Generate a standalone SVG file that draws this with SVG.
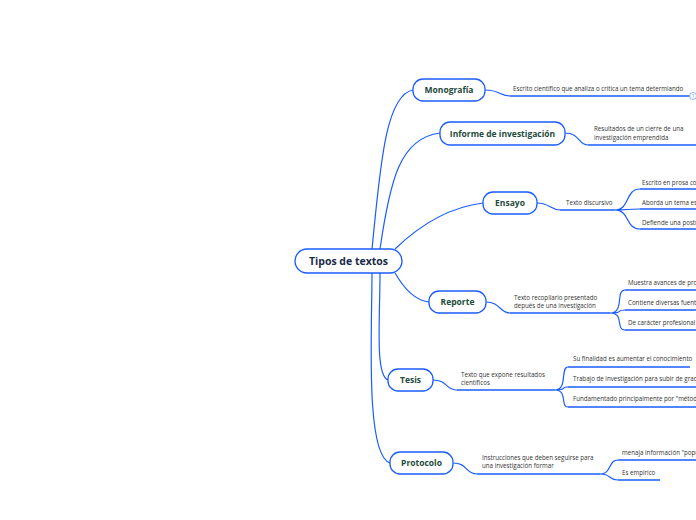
<svg xmlns="http://www.w3.org/2000/svg" width="696" height="520" viewBox="0 0 696 520">
<style>
.c{fill:none;stroke:#1a5cff;stroke-width:1.2}
.u{fill:none;stroke:#1a5cff;stroke-width:1.6}
.n{fill:#fff;stroke:#1a5cff;stroke-width:1.3}
.nt{font-family:"Open Sans",sans-serif;font-size:8.5px;font-weight:bold;fill:#1d4a3a;text-anchor:middle}
.t{font-family:"Open Sans",sans-serif;font-size:6.2px;fill:#333}
</style>
<rect width="696" height="520" fill="#fff"/>
<g id="connectors">
<path class="c" d="M372,249 C380,170 385,95 413,90"/>
<path class="c" d="M380,249 C390,180 400,138 440,133"/>
<path class="c" d="M395,249 C420,225 450,207 483,203"/>
<path class="c" d="M395,273 C405,290 415,300 429,302"/>
<path class="c" d="M380,273 C380,320 375,375 388,380"/>
<path class="c" d="M372,273 C372,330 365,455 390,463"/>
<path class="c" d="M485,90 C500,90 500,96 510,96"/><path class="u" d="M510,96 H690"/>
<circle cx="693" cy="96" r="3.5" fill="#fff" stroke="#6aa0ff" stroke-width="0.8"/>
<path class="c" d="M565,133 C580,133 578,145 588,145"/><path class="u" d="M588,145 H696"/>
<path class="c" d="M537,203 C550,203 550,210 560,210"/><path class="u" d="M560,210 H615"/>
<path class="c" d="M615,210 C630,210 625,189 640,189 M615,210 C630,210 625,209 640,209 M615,210 C630,210 625,229 640,229"/>
<path class="u" d="M640,189 H696 M640,209 H696 M640,229 H696"/>
<path class="c" d="M486,302 C500,302 500,313 510,313"/><path class="u" d="M510,313 H610"/>
<path class="c" d="M610,313 C625,313 615,290 625,290 M610,313 C625,313 615,310 625,310 M610,313 C625,313 615,330 625,330"/>
<path class="u" d="M625,290 H696 M625,310 H696 M625,330 H696"/>
<path class="c" d="M433,380 C448,380 445,390 457,390"/><path class="u" d="M457,390 H555"/>
<path class="c" d="M555,390 C568,390 560,367 568,367 M555,390 C568,390 560,387 568,387 M555,390 C568,390 560,407 568,407"/>
<path class="u" d="M568,367 H690 M568,387 H696 M568,407 H696"/>
<path class="c" d="M453,463 C468,463 465,474 477,474"/><path class="u" d="M477,474 H600"/>
<path class="c" d="M600,474 C612,474 608,460 618,460 M600,474 C612,474 608,480 618,480"/>
<path class="u" d="M618,460 H696 M618,480 H660"/>
</g>
<g id="central"><rect class="n" x="295" y="249" width="107" height="24" rx="12" stroke="#3a8ee0"/><text x="348.5" y="265" font-family="Open Sans,sans-serif" font-size="10.5" font-weight="bold" fill="#1a2a4a" text-anchor="middle">Tipos de textos</text></g>
<g id="monografia"><rect class="n" x="413" y="79" width="72" height="22" rx="10"/><text class="nt" x="449" y="93">Monografía</text></g>
<g id="informe"><rect class="n" x="440" y="122" width="125" height="23" rx="10"/><text class="nt" x="502.5" y="137">Informe de investigación</text></g>
<g id="ensayo"><rect class="n" x="483" y="192" width="54" height="22" rx="10"/><text class="nt" x="510" y="206">Ensayo</text></g>
<g id="reporte"><rect class="n" x="429" y="291" width="57" height="22" rx="10"/><text class="nt" x="457.5" y="305">Reporte</text></g>
<g id="tesis"><rect class="n" x="388" y="369" width="45" height="22" rx="10"/><text class="nt" x="410.5" y="383">Tesis</text></g>
<g id="protocolo"><rect class="n" x="390" y="452" width="63" height="22" rx="10"/><text class="nt" x="421.5" y="466">Protocolo</text></g>
<g id="texts" class="t">
<text class="t" x="513" y="91">Escrito científico  que analiza o critica un tema determiando</text>
<text x="693" y="98" font-family="Open Sans,sans-serif" font-size="4.5" fill="#6aa0ff" text-anchor="middle">1</text>
<text class="t" x="594" y="131">Resultados  de un cierre de una</text>
<text class="t" x="594" y="140">investigación emprendida</text>
<text class="t" x="566" y="205">Texto discursivo</text>
<text class="t" x="642" y="185">Escrito en prosa con</text>
<text class="t" x="642" y="205">Aborda un tema esp</text>
<text class="t" x="642" y="225">Defiende una postu</text>
<text class="t" x="514" y="300">Texto recopilario presentado</text>
<text class="t" x="514" y="308">depués de una investigación</text>
<text class="t" x="628" y="285">Muestra avances de pro</text>
<text class="t" x="628" y="305">Contiene diversas fuente</text>
<text class="t" x="628" y="325">De carácter profesional</text>
<text class="t" x="461" y="377">Texto que expone resultados</text>
<text class="t" x="461" y="385">científicos</text>
<text class="t" x="573" y="361">Su finalidad es aumentar el conocimiento</text>
<text class="t" x="573" y="381">Trabajo de investigación para subir de grado</text>
<text class="t" x="573" y="401">Fundamentado principalmente por "método</text>
<text class="t" x="482" y="460">Instrucciones que deben seguirse para</text>
<text class="t" x="482" y="468">una investigación formar</text>
<text class="t" x="622" y="455">menaja información "popu</text>
<text class="t" x="622" y="475">Es empírico</text>
</g>
</svg>
